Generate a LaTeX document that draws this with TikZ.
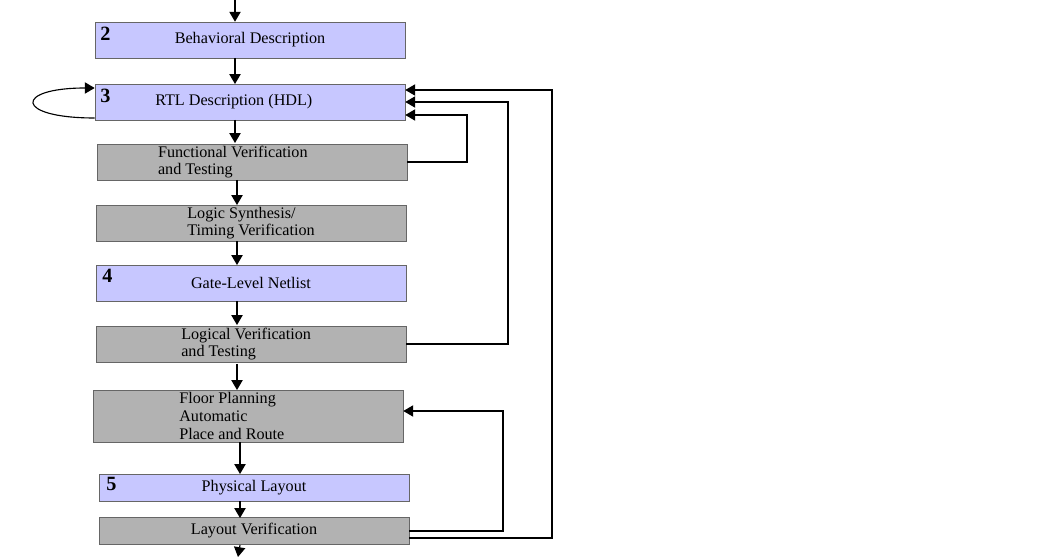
\documentclass[tikz,border=0pt]{standalone}
\usepackage{fontspec}
\setmainfont{Liberation Serif}
\usetikzlibrary{arrows.meta}
\begin{document}
\begin{tikzpicture}[x = 0.025cm, y = -0.025cm,
		stage/.style = {draw = black!60, fill = blue!22, minimum width = 7.75cm, minimum height = 0.9cm, inner ysep = 0pt, font = \fontsize{11.5}{12.5}\selectfont, align = left},
		check/.style = {stage, fill = black!30},
		stepnum/.style = {font = \Large\bfseries, anchor = north west, inner sep = 0pt},
		flow/.style = {-{Triangle[length = 7pt, width = 8pt]}, thick},
		]
	
	\useasboundingbox (0, 0) rectangle (1060, 557);
	
	% Design steps
	\node[stage] (behav) at (250, 40) {Behavioral Description};
	\node[stage] (rtl) at (250, 102) {RTL Description (HDL)\qquad};
	\node[check] (func) at (252, 162) {Functional Verification\\and Testing\hspace*{7em}\qquad};
	\node[check] (synth) at (251, 223) {Logic Synthesis/\\Timing Verification};
	\node[stage] (gate) at (251, 283) {Gate-Level Netlist};
	\node[check] (logic) at (251, 344) {Logical Verification\\and Testing\hspace*{4em}\qquad};
	\node[check, minimum height = 1.3cm] (floor) at (248, 416) {Floor Planning\hspace*{2em}\\Automatic\\Place and Route\hspace*{2em}};
	\node[stage, minimum height = 0.68cm] (phys) at (254, 488) {Physical Layout};
	\node[check, minimum height = 0.68cm] (layout) at (254, 531) {Layout Verification};
	
	% Step numbers
	\node[stepnum] (n2) at (100, 27) {2};
	\node[stepnum] (n3) at (100, 89) {3};
	\node[stepnum] (n4) at (102, 269) {4};
	\node[stepnum] (n5) at (106, 477) {5};
	
	% Main flow
	\coordinate (top) at (235, 0);
	\coordinate (bottom) at (238, 557);
	\draw[flow] (top) -- (top |- behav.north);
	\draw[flow] (235, 58) -- (235, 84);
	\draw[flow] (235, 120) -- (235, 143);
	\draw[flow] (237, 180) -- (237, 205);
	\draw[flow] (237, 241) -- (237, 265);
	\draw[flow] (237, 301) -- (237, 325);
	\draw[flow] (237, 364) -- (237, 390);
	\draw[flow] (240, 442) -- (240, 474);
	\draw[flow] (240, 501) -- (240, 518);
	\draw[flow] (240, 545) -- (bottom);
	
	% Feedback loops
	\draw[flow] (func.east) -| (467, 115) -- (rtl.east |- 0, 115);
	\draw[flow] (logic.east) -| (508, 102) -- (rtl.east);
	\draw[flow] (layout.east) -| (503, 411) -- (floor.east |- 0, 411);
	\draw[flow] (layout.east |- 0, 538) -| (552, 90) -- (rtl.east |- 0, 90);
	\draw[flow] (rtl.west |- 0, 118) .. controls (14, 118) and (14, 88) .. (rtl.west |- 0, 88);
	
\end{tikzpicture}
\end{document}
